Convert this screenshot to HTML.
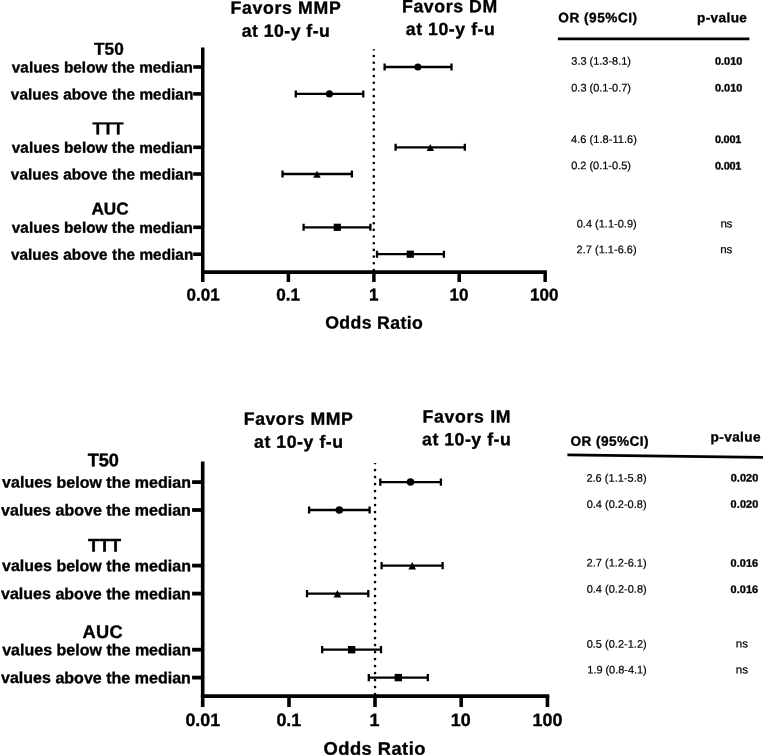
<!DOCTYPE html>
<html lang="en">
<head>
<meta charset="utf-8">
<title>Forest plot: odds ratios at 10-y f-u</title>
<style>
html,body{margin:0;padding:0;background:#fff;}
body{width:763px;height:756px;overflow:hidden;}
svg{display:block;}
text{font-family:'Liberation Sans', Arial, Helvetica, sans-serif;fill:#000;}
text{stroke:#000;stroke-width:0.2;stroke-linejoin:round;}
.b{font-weight:bold;stroke-width:0.35;}
.ax{stroke:#000;fill:none;stroke-linecap:butt;}
.eb{stroke:#000;stroke-width:2.3;fill:none;}
.mk{fill:#000;stroke:none;}
</style>
</head>
<body>
<svg width="763" height="756" viewBox="0 0 763 756">
<rect x="0" y="0" width="763" height="756" fill="#ffffff"/>
<g id="panel-top">
<line class="ax" x1="202.75" y1="47.5" x2="202.75" y2="273.90" stroke-width="3.5"/>
<line class="ax" x1="201.00" y1="272.05" x2="546.9" y2="272.05" stroke-width="3.7"/>
<line class="ax" x1="202.75" y1="272.05" x2="202.75" y2="282.0" stroke-width="3.5"/>
<line class="ax" x1="288.4" y1="272.05" x2="288.4" y2="282.0" stroke-width="3.5"/>
<line class="ax" x1="373.9" y1="272.05" x2="373.9" y2="282.0" stroke-width="3.5"/>
<line class="ax" x1="459.2" y1="272.05" x2="459.2" y2="282.0" stroke-width="3.5"/>
<line class="ax" x1="545.15" y1="272.05" x2="545.15" y2="282.0" stroke-width="3.5"/>
<line class="ax" x1="193.2" y1="67.0" x2="202.75" y2="67.0" stroke-width="3.6"/>
<line class="ax" x1="193.2" y1="93.9" x2="202.75" y2="93.9" stroke-width="3.6"/>
<line class="ax" x1="193.2" y1="147.3" x2="202.75" y2="147.3" stroke-width="3.6"/>
<line class="ax" x1="193.2" y1="174.0" x2="202.75" y2="174.0" stroke-width="3.6"/>
<line class="ax" x1="193.2" y1="227.3" x2="202.75" y2="227.3" stroke-width="3.6"/>
<line class="ax" x1="193.2" y1="254.2" x2="202.75" y2="254.2" stroke-width="3.6"/>
<line x1="373.8" y1="56.05" x2="373.8" y2="270.5" stroke="#000" stroke-width="2.6" stroke-dasharray="0.01 6.675" stroke-linecap="round"/>
<path class="mk" d="M372.50 49.36H375.10A1.30 1.30 0 0 1 372.50 49.36Z"/>
<path class="eb" d="M384.6 67.0H451.5M384.6 63.50V70.50M451.5 63.50V70.50"/>
<circle class="mk" cx="417.9" cy="67.0" r="3.55"/>
<path class="eb" d="M295.8 93.9H363.3M295.8 90.40V97.40M363.3 90.40V97.40"/>
<circle class="mk" cx="329.4" cy="93.9" r="3.55"/>
<path class="eb" d="M395.6 147.3H464.8M395.6 143.80V150.80M464.8 143.80V150.80"/>
<path class="mk" d="M430.3 144.05L434.00 151.05H426.60Z"/>
<path class="eb" d="M282.5 174.0H351.9M282.5 170.50V177.50M351.9 170.50V177.50"/>
<path class="mk" d="M317.0 170.75L320.70 177.75H313.30Z"/>
<path class="eb" d="M303.6 227.3H370.4M303.6 223.80V230.80M370.4 223.80V230.80"/>
<rect class="mk" x="333.70" y="223.70" width="7.2" height="7.2"/>
<path class="eb" d="M377.0 254.2H443.9M377.0 250.70V257.70M443.9 250.70V257.70"/>
<rect class="mk" x="406.70" y="250.60" width="7.2" height="7.2"/>
<line x1="557.9" y1="38.85" x2="749.4" y2="38.85" stroke="#000" stroke-width="2.8"/>
</g>
<g id="panel-bottom">
<line class="ax" x1="202.7" y1="461.6" x2="202.7" y2="698.00" stroke-width="3.6"/>
<line class="ax" x1="200.90" y1="696.15" x2="549.3" y2="696.15" stroke-width="3.7"/>
<line class="ax" x1="202.7" y1="696.15" x2="202.7" y2="707.0" stroke-width="3.6"/>
<line class="ax" x1="289.0" y1="696.15" x2="289.0" y2="707.0" stroke-width="3.6"/>
<line class="ax" x1="375.0" y1="696.15" x2="375.0" y2="707.0" stroke-width="3.6"/>
<line class="ax" x1="461.2" y1="696.15" x2="461.2" y2="707.0" stroke-width="3.6"/>
<line class="ax" x1="547.45" y1="696.15" x2="547.45" y2="707.0" stroke-width="3.6"/>
<line class="ax" x1="192.1" y1="482.1" x2="202.7" y2="482.1" stroke-width="3.8"/>
<line class="ax" x1="192.1" y1="510.0" x2="202.7" y2="510.0" stroke-width="3.8"/>
<line class="ax" x1="192.1" y1="565.6" x2="202.7" y2="565.6" stroke-width="3.8"/>
<line class="ax" x1="192.1" y1="593.6" x2="202.7" y2="593.6" stroke-width="3.8"/>
<line class="ax" x1="192.1" y1="649.7" x2="202.7" y2="649.7" stroke-width="3.8"/>
<line class="ax" x1="192.1" y1="677.6" x2="202.7" y2="677.6" stroke-width="3.8"/>
<line x1="375.05" y1="470.1" x2="375.05" y2="694.6" stroke="#000" stroke-width="2.6" stroke-dasharray="0.01 6.990" stroke-linecap="round"/>
<path class="mk" d="M373.75 463.10H376.35A1.30 1.30 0 0 1 373.75 463.10Z"/>
<path class="eb" d="M380.3 482.1H440.9M380.3 478.50V485.70M440.9 478.50V485.70"/>
<circle class="mk" cx="410.5" cy="482.1" r="3.75"/>
<path class="eb" d="M309.1 510.0H369.6M309.1 506.40V513.60M369.6 506.40V513.60"/>
<circle class="mk" cx="339.3" cy="510.0" r="3.75"/>
<path class="eb" d="M381.6 565.6H442.6M381.6 562.00V569.20M442.6 562.00V569.20"/>
<path class="mk" d="M412.2 562.10L416.00 569.60H408.40Z"/>
<path class="eb" d="M307.0 593.6H368.3M307.0 590.00V597.20M368.3 590.00V597.20"/>
<path class="mk" d="M337.4 590.10L341.20 597.60H333.60Z"/>
<path class="eb" d="M322.2 649.7H381.0M322.2 646.10V653.30M381.0 646.10V653.30"/>
<rect class="mk" x="347.90" y="646.00" width="7.4" height="7.4"/>
<path class="eb" d="M368.8 677.6H427.8M368.8 674.00V681.20M427.8 674.00V681.20"/>
<rect class="mk" x="394.60" y="673.90" width="7.4" height="7.4"/>
<line x1="567.4" y1="454.95" x2="763.5" y2="457.4" stroke="#000" stroke-width="2.8"/>
</g>
<g id="labels">
<text class="b" transform="matrix(1 0.0006 0 1 230.49 13.76)" font-size="17.7" letter-spacing="0.671">Favors MMP</text>
<text class="b" transform="matrix(1 0.0006 0 1 241.74 36.7)" font-size="17.7" letter-spacing="0.459">at 10-y f-u</text>
<text class="b" transform="matrix(1 0.0006 0 1 401.97 12.3)" font-size="17.7" letter-spacing="0.602">Favors DM</text>
<text class="b" transform="matrix(1 0.0006 0 1 405.78 35.0)" font-size="17.7" letter-spacing="0.55">at 10-y f-u</text>
<text class="b" transform="matrix(1 0.0006 0 1 93.93 54.8)" font-size="17.2" letter-spacing="0.092">T50</text>
<text class="b" transform="matrix(1 0.0006 0 1 92.41 134.2)" font-size="17.2" letter-spacing="-0.145">TTT</text>
<text class="b" transform="matrix(1 0.0006 0 1 91.47 214.4)" font-size="17.2" letter-spacing="-0.07">AUC</text>
<text class="b" transform="matrix(1 0.0006 0 1 11.79 72.5)" font-size="15.3" letter-spacing="0.04">values below the median</text>
<text class="b" transform="matrix(1 0.0006 0 1 10.85 99.4)" font-size="15.3" letter-spacing="0.06">values above the median</text>
<text class="b" transform="matrix(1 0.0006 0 1 11.82 152.8)" font-size="15.3" letter-spacing="0.038">values below the median</text>
<text class="b" transform="matrix(1 0.0006 0 1 10.85 179.5)" font-size="15.3" letter-spacing="0.06">values above the median</text>
<text class="b" transform="matrix(1 0.0006 0 1 11.82 232.8)" font-size="15.3" letter-spacing="0.038">values below the median</text>
<text class="b" transform="matrix(1 0.0006 0 1 10.88 259.7)" font-size="15.3" letter-spacing="0.059">values above the median</text>
<text class="b" transform="matrix(1 0.0006 0 1 186.42 300.6)" font-size="17.1">0.01</text>
<text class="b" transform="matrix(1 0.0006 0 1 276.15 300.6)" font-size="17.1">0.1</text>
<text class="b" transform="matrix(1 0.0006 0 1 368.97 300.6)" font-size="17.1">1</text>
<text class="b" transform="matrix(1 0.0006 0 1 449.45 300.6)" font-size="17.1">10</text>
<text class="b" transform="matrix(1 0.0006 0 1 530.07 300.6)" font-size="17.1">100</text>
<text class="b" transform="matrix(1 0.0006 0 1 325.22 328.6)" font-size="17.7" letter-spacing="0.353">Odds Ratio</text>
<text class="b" transform="matrix(1 0.0006 0 1 558.3 22.3)" font-size="13.6" letter-spacing="0.53">OR (95%CI)</text>
<text class="b" transform="matrix(1 0.0006 0 1 696.99 22.3)" font-size="13.6" letter-spacing="0.392">p-value</text>
<text transform="matrix(1 0.0006 0 1 571.34 64.8)" font-size="11.0" letter-spacing="-0.026">3.3 (1.3-8.1)</text>
<text transform="matrix(1 0.0006 0 1 571.27 91.5)" font-size="11.0" letter-spacing="-0.02">0.3 (0.1-0.7)</text>
<text transform="matrix(1 0.0006 0 1 571.0 143.0)" font-size="11.0" letter-spacing="0.048">4.6 (1.8-11.6)</text>
<text transform="matrix(1 0.0006 0 1 571.14 169.3)" font-size="11.0" letter-spacing="-0.009">0.2 (0.1-0.5)</text>
<text transform="matrix(1 0.0006 0 1 576.69 227.5)" font-size="11.0" letter-spacing="0.007">0.4 (1.1-0.9)</text>
<text transform="matrix(1 0.0006 0 1 576.58 253.3)" font-size="11.0" letter-spacing="0.013">2.7 (1.1-6.6)</text>
<text class="b" transform="matrix(1 0.0006 0 1 714.94 64.8)" font-size="10.9" letter-spacing="0.039">0.010</text>
<text class="b" transform="matrix(1 0.0006 0 1 714.95 91.5)" font-size="10.9" letter-spacing="0.029">0.010</text>
<text class="b" transform="matrix(1 0.0006 0 1 714.93 143.0)" font-size="10.9" letter-spacing="-0.205">0.001</text>
<text class="b" transform="matrix(1 0.0006 0 1 714.95 169.4)" font-size="10.9" letter-spacing="-0.201">0.001</text>
<text transform="matrix(1 0.0006 0 1 720.38 227.4)" font-size="11.6" letter-spacing="-0.292">ns</text>
<text transform="matrix(1 0.0006 0 1 720.37 253.3)" font-size="11.6" letter-spacing="-0.221">ns</text>
<text class="b" transform="matrix(1 0.0006 0 1 243.82 424.8)" font-size="17.7" letter-spacing="0.523">Favors MMP</text>
<text class="b" transform="matrix(1 0.0006 0 1 254.1 447.7)" font-size="17.7" letter-spacing="0.541">at 10-y f-u</text>
<text class="b" transform="matrix(1 0.0006 0 1 422.55 422.4)" font-size="17.7" letter-spacing="0.666">Favors IM</text>
<text class="b" transform="matrix(1 0.0006 0 1 422.1 445.3)" font-size="17.7" letter-spacing="0.511">at 10-y f-u</text>
<text class="b" transform="matrix(1 0.0006 0 1 87.84 466.3)" font-size="18.2" letter-spacing="-0.114">T50</text>
<text class="b" transform="matrix(1 0.0006 0 1 87.89 551.6)" font-size="18.2" letter-spacing="-0.036">TTT</text>
<text class="b" transform="matrix(1 0.0006 0 1 82.38 638.0)" font-size="18.2" letter-spacing="0.4">AUC</text>
<text class="b" transform="matrix(1 0.0006 0 1 2.11 487.6)" font-size="16.0" letter-spacing="0.015">values below the median</text>
<text class="b" transform="matrix(1 0.0006 0 1 1.11 515.5)" font-size="16.0" letter-spacing="0.015">values above the median</text>
<text class="b" transform="matrix(1 0.0006 0 1 1.98 571.1)" font-size="16.0" letter-spacing="0.021">values below the median</text>
<text class="b" transform="matrix(1 0.0006 0 1 0.98 599.1)" font-size="16.0" letter-spacing="0.021">values above the median</text>
<text class="b" transform="matrix(1 0.0006 0 1 2.19 655.2)" font-size="16.0" letter-spacing="0.012">values below the median</text>
<text class="b" transform="matrix(1 0.0006 0 1 0.98 683.1)" font-size="16.0" letter-spacing="0.021">values above the median</text>
<text class="b" transform="matrix(1 0.0006 0 1 185.39 726.0)" font-size="17.9">0.01</text>
<text class="b" transform="matrix(1 0.0006 0 1 276.4 726.0)" font-size="17.9">0.1</text>
<text class="b" transform="matrix(1 0.0006 0 1 369.54 726.0)" font-size="17.9">1</text>
<text class="b" transform="matrix(1 0.0006 0 1 450.77 726.0)" font-size="17.9">10</text>
<text class="b" transform="matrix(1 0.0006 0 1 532.54 726.0)" font-size="17.9">100</text>
<text class="b" transform="matrix(1 0.0006 0 1 323.56 754.8)" font-size="18.3" letter-spacing="0.472">Odds Ratio</text>
<text class="b" transform="matrix(1 0.0006 0 1 570.62 445.7)" font-size="13.6" letter-spacing="0.424">OR (95%CI)</text>
<text class="b" transform="matrix(1 0.0006 0 1 710.58 441.4)" font-size="13.6" letter-spacing="0.387">p-value</text>
<text transform="matrix(1 0.0006 0 1 586.39 481.7)" font-size="11.0" letter-spacing="0.02">2.6 (1.1-5.8)</text>
<text transform="matrix(1 0.0006 0 1 586.71 507.9)" font-size="11.0" letter-spacing="-0.006">0.4 (0.2-0.8)</text>
<text transform="matrix(1 0.0006 0 1 586.57 566.6)" font-size="11.0" letter-spacing="0.015">2.7 (1.2-6.1)</text>
<text transform="matrix(1 0.0006 0 1 586.64 592.7)" font-size="11.0" letter-spacing="0.009">0.4 (0.2-0.8)</text>
<text transform="matrix(1 0.0006 0 1 586.64 647.7)" font-size="11.0" letter-spacing="0.009">0.5 (0.2-1.2)</text>
<text transform="matrix(1 0.0006 0 1 587.34 673.5)" font-size="11.0" letter-spacing="-0.047">1.9 (0.8-4.1)</text>
<text class="b" transform="matrix(1 0.0006 0 1 730.65 481.6)" font-size="10.9" letter-spacing="0.104">0.020</text>
<text class="b" transform="matrix(1 0.0006 0 1 730.61 507.8)" font-size="10.9" letter-spacing="0.122">0.020</text>
<text class="b" transform="matrix(1 0.0006 0 1 730.48 566.7)" font-size="10.9" letter-spacing="0.107">0.016</text>
<text class="b" transform="matrix(1 0.0006 0 1 730.47 592.9)" font-size="10.9" letter-spacing="0.114">0.016</text>
<text transform="matrix(1 0.0006 0 1 735.82 647.6)" font-size="11.6" letter-spacing="0.092">ns</text>
<text transform="matrix(1 0.0006 0 1 735.82 673.5)" font-size="11.6" letter-spacing="0.092">ns</text>
</g>
</svg>
</body>
</html>
